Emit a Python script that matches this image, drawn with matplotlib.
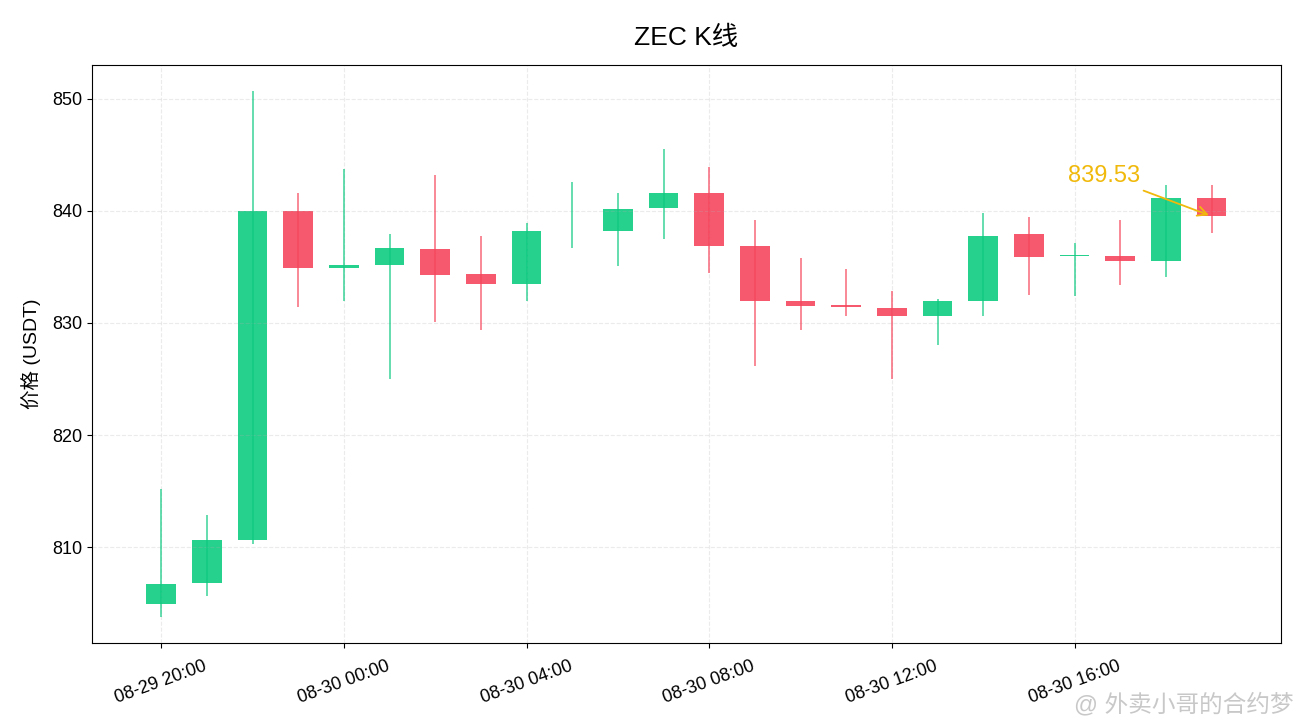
import pandas as pd
import matplotlib
matplotlib.use("Agg")
import matplotlib.pyplot as plt
import matplotlib.dates as mdates

plt.rcParams['font.family'] = ['Liberation Sans', 'Noto Sans CJK SC', 'DejaVu Sans']

# hourly candles, 08-29 20:00 .. 08-30 19:00
times = pd.date_range("2025-08-29 20:00", periods=24, freq="h")
opens = [804.9, 806.8, 810.6, 840.0, 834.9, 835.2, 836.6, 834.4, 833.5, 838.2, 838.2, 840.3,
         841.6, 836.9, 832.0, 831.6, 831.3, 830.6, 832.0, 837.9, 836.0, 836.0, 835.5, 841.2]
closes = [806.7, 810.6, 840.0, 834.9, 835.2, 836.7, 834.3, 833.5, 838.2, 838.2, 840.2, 841.6,
          836.9, 832.0, 831.5, 831.4, 830.6, 832.0, 837.8, 835.9, 836.1, 835.5, 841.2, 839.53]
highs = [815.2, 812.9, 850.7, 841.6, 843.7, 837.9, 843.2, 837.8, 838.9, 842.6, 841.6, 845.5,
         843.9, 839.2, 835.8, 834.8, 832.9, 832.1, 839.8, 839.5, 837.1, 839.2, 842.3, 842.3]
lows = [803.8, 805.6, 810.3, 831.4, 832.0, 825.0, 830.1, 829.4, 832.0, 836.7, 835.1, 837.5,
        834.5, 826.2, 829.4, 830.6, 825.0, 828.0, 830.6, 832.5, 832.4, 833.4, 834.1, 838.0]

UP = '#0ECB81'
DOWN = '#F6465D'
GOLD = '#F0B90B'

fig, ax = plt.subplots(figsize=(13, 7.28), dpi=100)
fig.subplots_adjust(left=0.071, right=0.985, top=0.911, bottom=0.117)

width = 0.65 / 24
for t, o, c, h, l in zip(times, opens, closes, highs, lows):
    col = UP if c >= o else DOWN
    ax.vlines(t, l, h, color=col, linewidth=1.2, alpha=0.75)
    ax.bar(t, abs(c - o), bottom=min(o, c), width=width, color=col, alpha=0.9)

ax.set_xticks(times[::4])
ax.xaxis.set_major_formatter(mdates.DateFormatter('%m-%d %H:%M'))
plt.setp(ax.get_xticklabels(), rotation=20, ha='center')
ax.tick_params(labelsize=13)
ax.tick_params(axis='x', pad=7)

ax.grid(True, linestyle='--', alpha=0.25)
ax.set_title('ZEC K线', fontsize=19, pad=14)
ax.set_ylabel('价格 (USDT)', fontsize=14, labelpad=8)

last_t = times[-1]
last_c = closes[-1]
ax.annotate(f'{last_c:.2f}', xy=(last_t, last_c),
            xytext=(last_t - pd.Timedelta(hours=2.35), last_c + 3.6),
            color=GOLD, fontsize=17, ha='center', va='center',
            arrowprops=dict(arrowstyle='->', color=GOLD, lw=1.3))

fig.text(0.995, 0.032, '@ 外卖小哥的合约梦', ha='right', va='center',
         fontsize=17, color='#bbbbbb', alpha=0.8)

fig.savefig('out.png', dpi=100)
